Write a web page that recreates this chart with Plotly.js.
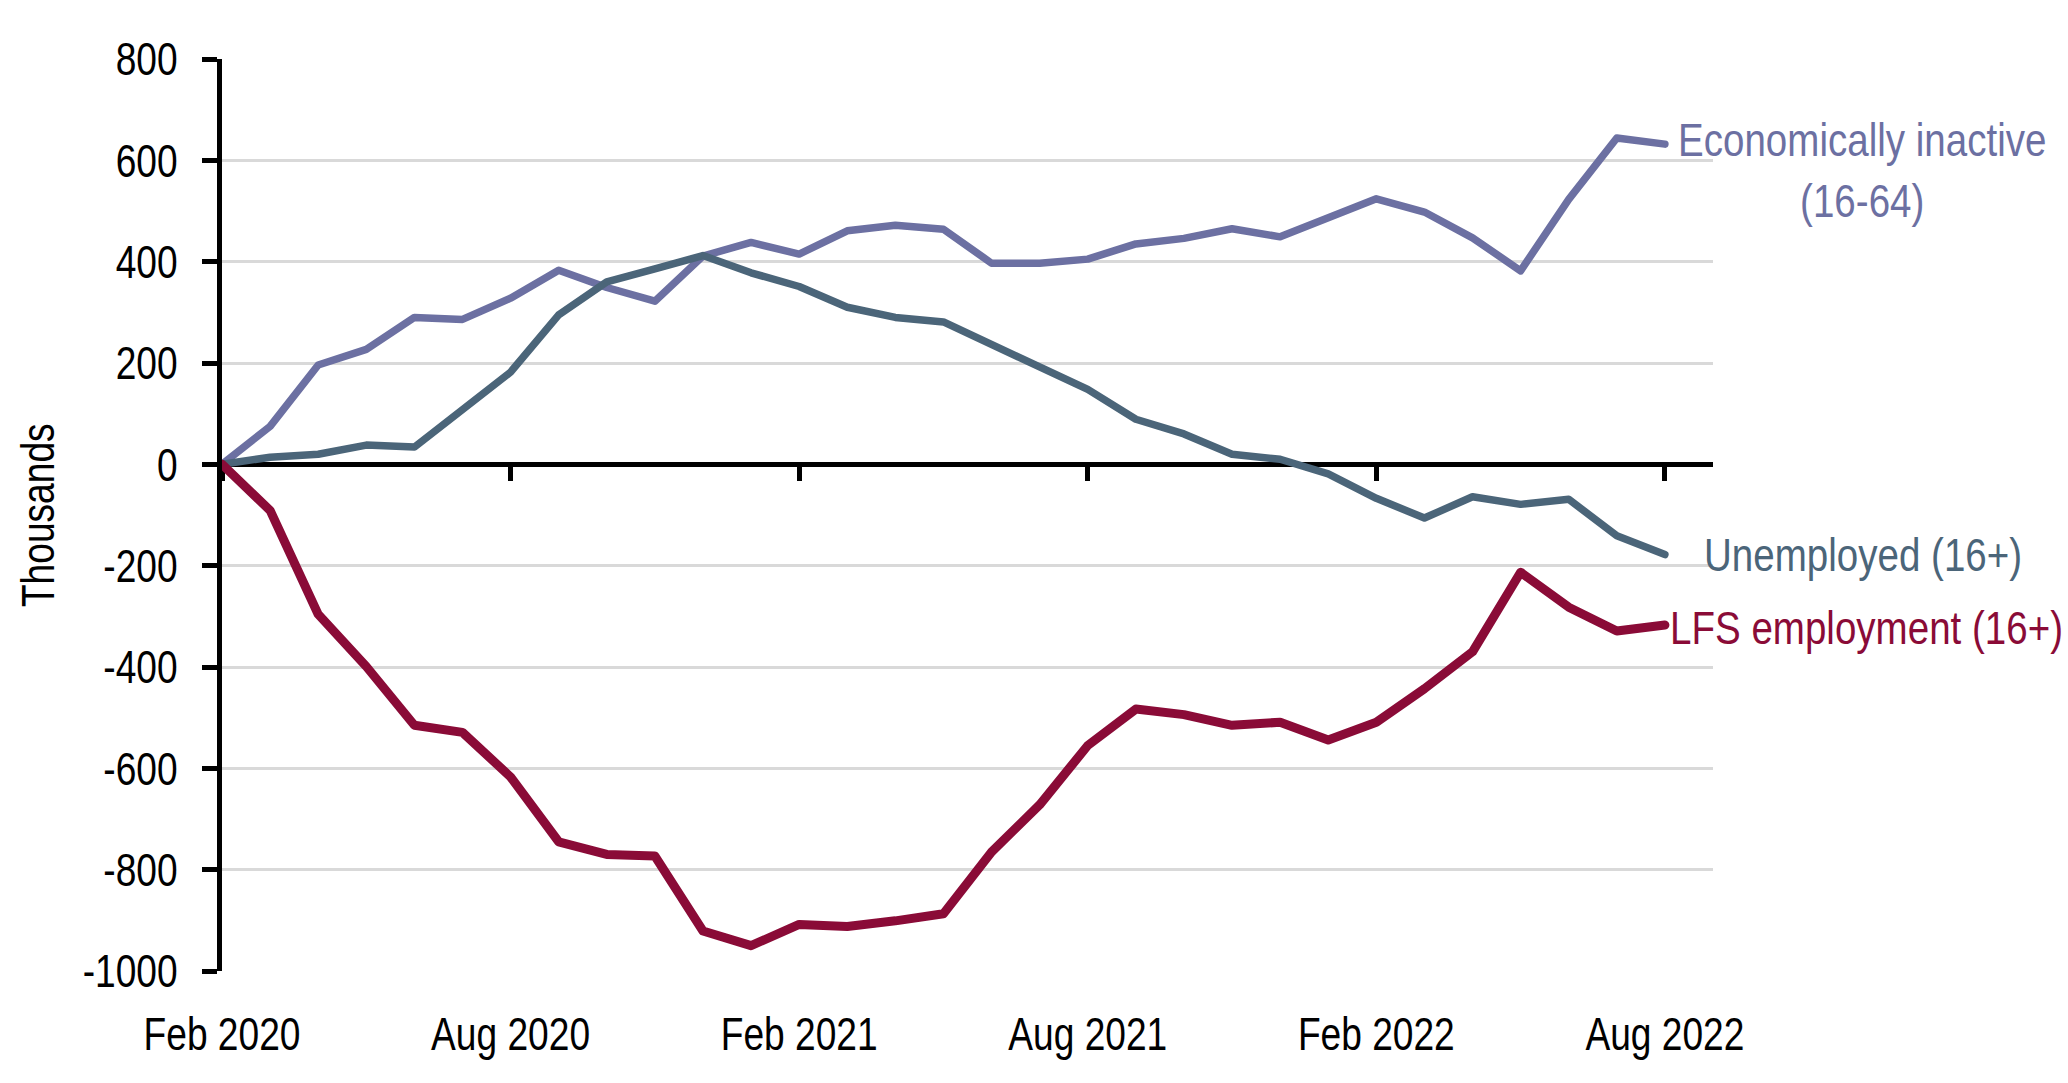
<!DOCTYPE html>
<html>
<head>
<meta charset="utf-8">
<script src="https://cdn.plot.ly/plotly-3.0.1.min.js"></script>
<style>
  html, body { margin: 0; padding: 0; background: #ffffff; }
  #chart { width: 2068px; height: 1083px; }
</style>
</head>
<body>
<div id="chart"></div>
<script>
// Months since Feb 2020 (0 = Feb 2020 ... 30 = Aug 2022)
const months = [
  'Feb 2020','Mar 2020','Apr 2020','May 2020','Jun 2020','Jul 2020','Aug 2020','Sep 2020','Oct 2020','Nov 2020','Dec 2020',
  'Jan 2021','Feb 2021','Mar 2021','Apr 2021','May 2021','Jun 2021','Jul 2021','Aug 2021','Sep 2021','Oct 2021','Nov 2021',
  'Dec 2021','Jan 2022','Feb 2022','Mar 2022','Apr 2022','May 2022','Jun 2022','Jul 2022','Aug 2022'
];
const monthIndex = months.map((m, i) => i);

// Change since Feb 2020, thousands
const economicallyInactive = [
  0, 75, 196, 227, 290, 286, 328, 383, 349, 322, 411,
  438, 415, 461, 472, 464, 397, 397, 405, 435, 446,
  465, 449, 487, 524, 498, 447, 382, 523, 644, 632
];
const unemployed = [
  0, 14, 20, 38, 34, 110, 182, 295, 360, 386, 412,
  378, 351, 310, 290, 281, 238, 194, 148, 89, 60,
  20, 10, -19, -67, -106, -64, -79, -69, -141, -178
];
const lfsEmployment = [
  0, -91, -296, -399, -515, -529, -617, -745, -770, -773, -921,
  -950, -908, -912, -901, -887, -765, -672, -555, -483, -494,
  -515, -509, -544, -509, -443, -370, -213, -282, -329, -317
];

const seriesNames = ['Economically inactive<br>(16-64)', 'Unemployed (16+)', 'LFS employment (16+)'];
const seriesColors = ['#6c70a2', '#4b6579', '#8a0b37'];
const seriesWidths = [7.5, 7.5, 9];

const xTickVals = [0, 6, 12, 18, 24, 30];
const xTickText = ['Feb 2020', 'Aug 2020', 'Feb 2021', 'Aug 2021', 'Feb 2022', 'Aug 2022'];
const yTickVals = [800, 600, 400, 200, 0, -200, -400, -600, -800, -1000];
const yTickText = ['800', '600', '400', '200', '0', '-200', '-400', '-600', '-800', '-1000'];
const yTitle = 'Thousands';
const yRange = [-1000, 800];
const xRange = [0, 31];

const FONT = '"Liberation Sans", Arial, sans-serif';
const TICK_SQUEEZE = 0.79;
const LABEL_SQUEEZE = 0.82;

const allSeries = [economicallyInactive, unemployed, lfsEmployment];
const traces = allSeries.map((vals, i) => ({
  type: 'scatter',
  mode: 'lines',
  x: monthIndex,
  y: vals,
  line: { color: seriesColors[i], width: seriesWidths[i] },
  showlegend: false,
  hoverinfo: 'skip'
}));
// empty trace to bind the zero-line axis
traces.push({ type: 'scatter', mode: 'lines', x: [], y: [], xaxis: 'x2', yaxis: 'y', showlegend: false, hoverinfo: 'skip' });

const last = monthIndex.length - 1;
const labelShifts = [
  { xshift: 11, yshift: -26 },
  { xshift: 37, yshift: 0 },
  { xshift: 3, yshift: -3 }
];
const annotations = allSeries.map((vals, i) => ({
  x: monthIndex[last],
  y: vals[last],
  xref: 'x',
  yref: 'y',
  text: seriesNames[i],
  showarrow: false,
  xanchor: 'left',
  yanchor: 'middle',
  align: 'center',
  xshift: labelShifts[i].xshift,
  yshift: labelShifts[i].yshift,
  font: { family: FONT, size: 47, color: seriesColors[i] }
}));
// y-axis title
annotations.push({
  x: 0, y: 0.5, xref: 'paper', yref: 'paper',
  text: yTitle, textangle: -90, showarrow: false,
  xanchor: 'center', yanchor: 'middle',
  xshift: -184.5,
  font: { family: FONT, size: 47, color: '#000000' }
});

const zeroPos = (0 - yRange[0]) / (yRange[1] - yRange[0]);

const layout = {
  width: 2068,
  height: 1083,
  margin: { l: 222, r: 355, t: 59, b: 112 },
  paper_bgcolor: '#ffffff',
  plot_bgcolor: '#ffffff',
  font: { family: FONT, size: 47, color: '#000000' },
  showlegend: false,
  xaxis: {
    range: xRange,
    tickmode: 'array',
    tickvals: xTickVals,
    ticktext: xTickText,
    showline: false,
    showgrid: false,
    zeroline: false,
    ticks: '',
    ticklabelstandoff: 31,
    tickfont: { family: FONT, size: 47, color: '#000000' },
    fixedrange: true
  },
  xaxis2: {
    overlaying: 'x',
    anchor: 'free',
    position: zeroPos,
    side: 'bottom',
    range: xRange,
    tickmode: 'array',
    tickvals: xTickVals,
    showticklabels: false,
    showline: true,
    linecolor: '#000000',
    linewidth: 5,
    ticks: 'outside',
    ticklen: 14,
    tickwidth: 5,
    tickcolor: '#000000',
    showgrid: false,
    zeroline: false,
    layer: 'below traces',
    fixedrange: true
  },
  yaxis: {
    range: yRange,
    tickmode: 'array',
    tickvals: yTickVals,
    ticktext: yTickText,
    showline: true,
    linecolor: '#000000',
    linewidth: 5,
    ticks: 'outside',
    ticklen: 15,
    tickwidth: 5,
    tickcolor: '#000000',
    ticklabelstandoff: 15,
    showgrid: true,
    gridcolor: '#d9d9d9',
    gridwidth: 3,
    zeroline: false,
    layer: 'below traces',
    tickfont: { family: FONT, size: 47, color: '#000000' },
    fixedrange: true
  },
  annotations: annotations
};

// narrow the text horizontally to mimic the condensed typeface of the original
function squeeze(el, mode, factor) {
  if (!el) return;
  const bb = el.getBBox();
  const ax = mode === 'start' ? bb.x : (mode === 'end' ? bb.x + bb.width : bb.x + bb.width / 2);
  const t = el.getAttribute('transform') || '';
  el.setAttribute('transform', t + ' translate(' + ax + ',0) scale(' + factor + ',1) translate(' + (-ax) + ',0)');
}

Plotly.newPlot('chart', traces, layout, { staticPlot: true, displayModeBar: false }).then(gd => {
  gd.querySelectorAll('.xtick text').forEach(el => squeeze(el, 'middle', TICK_SQUEEZE));
  gd.querySelectorAll('.ytick text').forEach(el => squeeze(el, 'end', TICK_SQUEEZE));
  gd.querySelectorAll('g.annotation').forEach(g => {
    const idx = +g.getAttribute('data-index');
    const a = layout.annotations[idx];
    const el = g.querySelector('text.annotation-text');
    if (a.textangle === -90) squeeze(el, 'middle', TICK_SQUEEZE);
    else squeeze(el, a.xanchor === 'left' ? 'start' : 'middle', LABEL_SQUEEZE);
  });
  gd.querySelectorAll('.scatterlayer .js-line').forEach(p => {
    p.style.strokeLinecap = 'round';
    p.style.strokeLinejoin = 'round';
  });
});
</script>
</body>
</html>
